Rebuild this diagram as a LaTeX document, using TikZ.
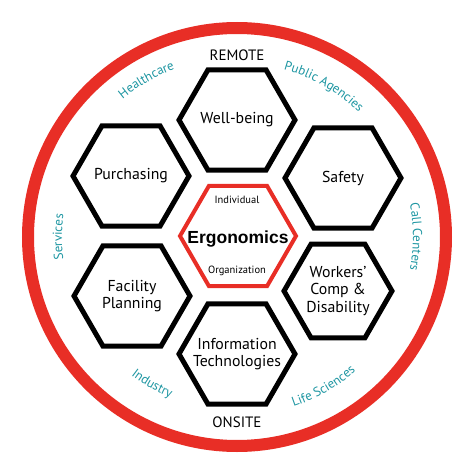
\documentclass[tikz,border=0pt]{standalone}
\usepackage{fontspec}
\setmainfont{PT Sans}
\newfontfamily\ergofont{Liberation Sans}
\usetikzlibrary{shapes.geometric,decorations.text}
\definecolor{ringred}{RGB}{232,46,38}
\definecolor{tealc}{RGB}{30,150,162}
\newcommand\labfont{\fontsize{13}{15}\selectfont}
\begin{document}
\begin{tikzpicture}[x=1pt,y=1pt,
  hexa/.style={regular polygon, regular polygon sides=6, draw=black, line width=5pt, minimum size=116pt, inner sep=0pt},
  hexred/.style={hexa, draw=ringred, line width=4pt},
  hextxt/.style={align=center, font=\fontsize{15.8}{17.5}\selectfont, inner sep=0pt},
  smalltxt/.style={font=\fontsize{10.5}{12}\selectfont, inner sep=0pt},
  sidetxt/.style={font=\fontsize{15}{17}\selectfont, inner sep=0pt},
  arctxt/.style={decorate, decoration={text along path, text align=center, text color=tealc}}
]
\useasboundingbox (-237,-237) rectangle (237,237);
\node[circle, draw=ringred, line width=12pt, minimum size=418pt, inner sep=0pt] (ring) at (0,0) {};
% hexagons
\node[hexred] (erg) at (1,1) {};
\node[hexa] (wb) at (0,117) {};
\node[hexa] (pur) at (-106,61) {};
\node[hexa] (saf) at (106,59) {};
\node[hexa] (fac) at (-105,-59) {};
\node[hexa, minimum size=108pt] (wor) at (101,-54) {};
\node[hexa] (inf) at (0,-117) {};
% texts
\node[font=\ergofont\bfseries\fontsize{17.5}{20}\selectfont, inner sep=0pt] (ergt) at (1,-2) {Ergonomics};
\node[smalltxt] (indt) at (0,37) {Individual};
\node[smalltxt] (orgt) at (0,-34) {Organization};
\node[hextxt] (wbt) at (wb) {Well-being};
\node[hextxt] (purt) at (pur) {Purchasing};
\node[hextxt] (saft) at (saf) {Safety};
\node[hextxt] (fact) at (fac) {Facility\\Planning};
\node[hextxt] (wort) at (wor) {Workers'\\Comp \&\\Disability};
\node[hextxt] (inft) at (inf) {Information\\Technologies};
\node[sidetxt] (remote) at (0,182) {REMOTE};
\node[sidetxt] (onsite) at (0,-185) {ONSITE};
% arc labels
\path[arctxt, decoration={text={|\labfont|Healthcare}}] (165:179) arc[start angle=165, end angle=75, radius=179];
\path[arctxt, decoration={text={|\labfont|Public Agencies}}] (105:174) arc[start angle=105, end angle=15, radius=174];
\path[arctxt, decoration={text={|\labfont|Services}}] (225:175) arc[start angle=225, end angle=135, radius=175];
\path[arctxt, decoration={text={|\labfont|Call Centers}}] (45:176) arc[start angle=45, end angle=-45, radius=176];
\path[arctxt, decoration={text={|\labfont|Industry}}] (195:174) arc[start angle=195, end angle=285, radius=174];
\path[arctxt, decoration={text={|\labfont|Life Sciences}}] (255:179) arc[start angle=255, end angle=345, radius=179];
\end{tikzpicture}
\end{document}
